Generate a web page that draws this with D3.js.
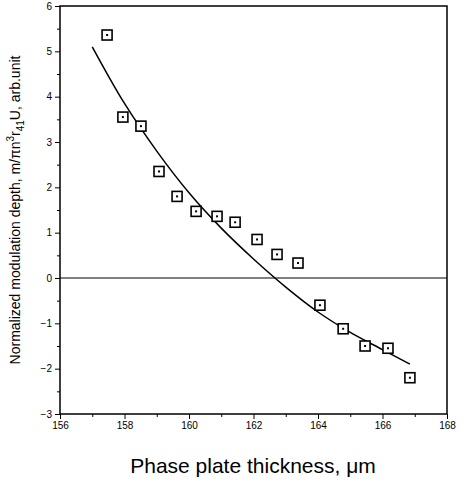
<!DOCTYPE html><html><head><script src="https://cdn.jsdelivr.net/npm/d3@7"></script>
<style>body{margin:0;background:#fff}</style></head><body><svg id="c" width="474" height="488"></svg>
<script>
const ptX=[157.46,157.95,158.51,159.07,159.63,160.22,160.87,161.43,162.11,162.73,163.38,164.06,164.78,165.46,166.17,166.85];
const ptY=[5.36,3.55,3.35,2.35,1.8,1.47,1.36,1.23,0.85,0.52,0.33,-0.6,-1.12,-1.5,-1.55,-2.2];
const fitX=[157,158,159,160,161,162,163,164,165,166,166.85];
const fitY=[5.1,3.85,2.8,1.88,1.1,0.42,-0.2,-0.75,-1.2,-1.58,-1.9];
const xTicks=[156,158,160,162,164,166,168];
const yTicks=[-3,-2,-1,0,1,2,3,4,5,6];
const svg=d3.select("#c");
const L=60,R=447,T=6,B=414;
const x=d3.scaleLinear().domain([156,168]).range([L,R]);
const y=d3.scaleLinear().domain([-3,6]).range([B,T]);
const g=svg.append("g").attr("font-family","Liberation Sans, Arial").attr("font-size",12);
g.append("g").attr("transform",`translate(0,${B})`).call(d3.axisBottom(x).tickValues(xTicks).tickSize(5).tickFormat(d3.format("d"))).call(a=>a.select(".domain").remove());
g.append("g").attr("transform",`translate(0,${B})`).call(d3.axisBottom(x).tickValues(d3.range(157,168,2)).tickSize(3).tickFormat("")).call(a=>a.select(".domain").remove());
g.append("g").attr("transform",`translate(${L},0)`).call(d3.axisLeft(y).tickValues(yTicks).tickSize(5).tickFormat(d3.format("d"))).call(a=>a.select(".domain").remove());
g.append("g").attr("transform",`translate(${L},0)`).call(d3.axisLeft(y).tickValues(d3.range(-2.5,6,1)).tickSize(3).tickFormat("")).call(a=>a.select(".domain").remove());
g.selectAll(".tick text").attr("fill","#000");
svg.append("rect").attr("x",L).attr("y",T).attr("width",R-L).attr("height",B-T).attr("fill","none").attr("stroke","#000").attr("stroke-width",1.5);
svg.append("line").attr("x1",L).attr("x2",R).attr("y1",y(0)).attr("y2",y(0)).attr("stroke","#000").attr("stroke-width",1.2);
svg.append("path").attr("d",d3.line().curve(d3.curveCatmullRom).x(d=>x(d[0])).y(d=>y(d[1]))(fitX.map((v,i)=>[v,fitY[i]]))).attr("fill","none").attr("stroke","#000").attr("stroke-width",1.5);
const pts=svg.selectAll(".p").data(ptX.map((v,i)=>[v,ptY[i]])).enter().append("g").attr("transform",d=>`translate(${x(d[0])},${y(d[1])})`);
pts.append("rect").attr("x",-5).attr("y",-5).attr("width",10).attr("height",10).attr("fill","#fff").attr("stroke","#000").attr("stroke-width",1.6);
pts.append("rect").attr("x",-1).attr("y",-1).attr("width",2).attr("height",2).attr("fill","#000");
svg.append("text").attr("x",253).attr("y",473).attr("text-anchor","middle").attr("font-family","Liberation Sans, Arial").attr("font-size",21).text("Phase plate thickness, μm");
const yl=svg.append("text").attr("transform",`translate(20,${(T+B)/2}) rotate(-90)`).attr("text-anchor","middle").attr("font-family","Liberation Sans, Arial").attr("font-size",14);
yl.append("tspan").text("Normalized modulation depth, m/πn");
yl.append("tspan").attr("dy",-6).attr("font-size",10).text("3");
yl.append("tspan").attr("dy",6).text("r");
yl.append("tspan").attr("dy",4).attr("font-size",10).text("41");
yl.append("tspan").attr("dy",-4).text("U, arb.unit");
</script></body></html>
